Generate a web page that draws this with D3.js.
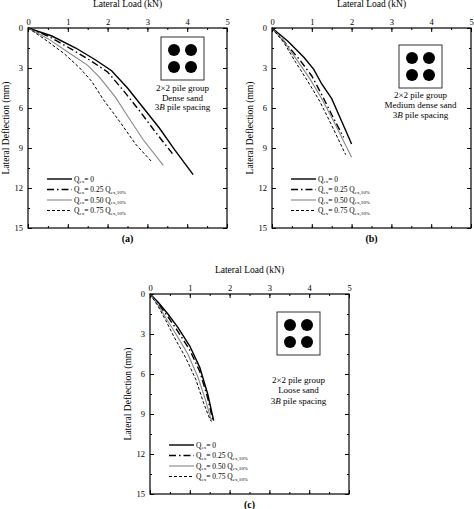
<!DOCTYPE html>
<html><head><meta charset="utf-8">
<script src="https://cdn.jsdelivr.net/npm/d3@7"></script>
<style>body{margin:0;background:#fff}svg text{font-family:"Liberation Serif","Times New Roman",serif !important;fill:#000}</style>
</head><body><svg id="c" width="474" height="509"></svg>
<script>
const xTicks=[0,1,2,3,4,5];
const yTicks=[0,3,6,9,12,15];
const seriesNames=["0","0.25","0.50","0.75"];
const panelLabels=["(a)","(b)","(c)"];
const sandTypes=["Dense sand","Medium dense sand","Loose sand"];
const aQ0=[[0,0],[0.6,0.6],[1.2,1.5],[1.7,2.4],[2.1,3.2],[2.5,4.5],[2.9,6],[3.3,7.5],[3.7,9.2],[4.15,11]];
const aQ25=[[0,0],[0.5,0.6],[1.1,1.6],[1.6,2.5],[2.0,3.3],[2.4,4.7],[2.8,6.2],[3.2,7.8],[3.65,9.5]];
const aQ50=[[0,0],[0.5,0.8],[1.0,1.8],[1.5,2.8],[1.8,3.7],[2.2,5.2],[2.5,6.6],[2.9,8.4],[3.4,10.3]];
const aQ75=[[0,0],[0.4,0.8],[0.9,1.9],[1.3,3],[1.6,4],[1.9,5.4],[2.3,7],[2.7,8.7],[3.1,10]];
const bQ0=[[0,0],[0.4,1],[0.8,2.2],[1.05,3.1],[1.25,4.2],[1.5,5.3],[1.75,7],[2.0,8.7]];
const bQ25=[[0,0],[0.3,1],[0.7,2.4],[1.0,3.6],[1.25,5],[1.5,6.5],[1.8,8.2]];
const bQ50=[[0,0],[0.3,1],[0.65,2.5],[0.95,3.8],[1.25,5.3],[1.55,7],[2.0,9.7]];
const bQ75=[[0,0],[0.3,1.1],[0.6,2.6],[0.9,4],[1.2,5.5],[1.5,7.3],[1.85,9.5]];
const cQ0=[[0,0],[0.2,0.6],[0.45,1.5],[0.7,2.5],[1.0,3.9],[1.25,5.5],[1.45,7.5],[1.6,9.5]];
const cQ25=[[0,0],[0.2,0.7],[0.45,1.7],[0.7,2.8],[1.0,4.2],[1.25,5.8],[1.45,7.8],[1.58,9.5]];
const cQ50=[[0,0],[0.2,0.8],[0.4,1.8],[0.65,3],[0.95,4.5],[1.2,6.2],[1.4,8],[1.55,9.6]];
const cQ75=[[0,0],[0.2,0.9],[0.4,2],[0.6,3.2],[0.9,4.8],[1.15,6.4],[1.35,8.2],[1.52,9.5]];
const panels=[[aQ0,aQ25,aQ50,aQ75],[bQ0,bQ25,bQ50,bQ75],[cQ0,cQ25,cQ50,cQ75]];
const styles=[{c:"#000",w:1.4,d:null},{c:"#000",w:1.4,d:"7,3,1.5,3"},{c:"#888",w:1.1,d:null},{c:"#000",w:1,d:"3,2"}];
const layout=[{x:28,y:28,box:[133,9],txt:[63,73,82],leg:151},{x:272,y:28,box:[127,17],txt:[70,80,90],leg:151},{x:150,y:294,box:[127,18],txt:[89,99,110],leg:151}];
const W=199,H=200;
const svg=d3.select("#c");
panels.forEach((ser,i)=>{
  const L=layout[i];
  const g=svg.append("g").attr("transform",`translate(${L.x},${L.y})`);
  const x=d3.scaleLinear().domain([0,5]).range([0,W]);
  const y=d3.scaleLinear().domain([0,15]).range([0,H]);
  const minorX=d3.range(0,5.01,0.5), minorY=d3.range(0,15.01,1.5);
  const ax=(a,sel)=>{sel.call(a);sel.select(".domain").remove();sel.selectAll("line").attr("stroke","#000");};
  g.append("g").call(s=>ax(d3.axisTop(x).tickValues(xTicks).tickSize(-4).tickPadding(3).tickFormat(d3.format("d")),s)).selectAll("text").attr("font-size",8.5);
  g.append("g").call(s=>ax(d3.axisTop(x).tickValues(minorX).tickSize(-2).tickFormat(""),s));
  g.append("g").attr("transform",`translate(0,${H})`).call(s=>ax(d3.axisBottom(x).tickValues(minorX).tickSize(-2).tickFormat(""),s));
  g.append("g").attr("transform",`translate(0,${H})`).call(s=>ax(d3.axisBottom(x).tickValues(xTicks).tickSize(-4).tickFormat(""),s));
  g.append("g").call(s=>ax(d3.axisLeft(y).tickValues(yTicks).tickSize(-4).tickPadding(5).tickFormat(d3.format("d")),s)).selectAll("text").attr("font-size",8.5);
  g.append("g").call(s=>ax(d3.axisLeft(y).tickValues(minorY).tickSize(-2).tickFormat(""),s));
  g.append("g").attr("transform",`translate(${W},0)`).call(s=>ax(d3.axisRight(y).tickValues(yTicks).tickSize(-4).tickFormat(""),s));
  g.append("g").attr("transform",`translate(${W},0)`).call(s=>ax(d3.axisRight(y).tickValues(minorY).tickSize(-2).tickFormat(""),s));
  g.append("rect").attr("width",W).attr("height",H).attr("fill","none").attr("stroke","#000").attr("stroke-width",1.2);
  g.append("text").attr("x",W/2).attr("y",-21).attr("text-anchor","middle").attr("font-size",9.5).text("Lateral Load (kN)");
  g.append("text").attr("transform",`translate(${-19},${H/2}) rotate(-90)`).attr("text-anchor","middle").attr("font-size",9.5).text("Lateral Deflection (mm)");
  g.append("text").attr("x",W/2).attr("y",H+14).attr("text-anchor","middle").attr("font-size",10).attr("font-weight","bold").text(panelLabels[i]);
  const line=d3.line().x(d=>x(d[0])).y(d=>y(d[1]));
  ser.forEach((s,k)=>{g.append("path").attr("d",line(s)).attr("fill","none").attr("stroke",styles[k].c).attr("stroke-width",styles[k].w).attr("stroke-dasharray",styles[k].d);});
  const [bx,by]=L.box;
  g.append("rect").attr("x",bx).attr("y",by).attr("width",43).attr("height",43).attr("fill","none").attr("stroke","#333").attr("stroke-width",1);
  [[0,0],[1,0],[0,1],[1,1]].forEach(([a,b])=>g.append("circle").attr("cx",bx+13+a*17).attr("cy",by+13+b*17).attr("r",6).attr("fill","#000"));
  const cx=bx+21.5;
  g.append("text").attr("x",cx).attr("y",L.txt[0]).attr("text-anchor","middle").attr("font-size",9).text("2×2 pile group");
  g.append("text").attr("x",cx).attr("y",L.txt[1]).attr("text-anchor","middle").attr("font-size",9).text(sandTypes[i]);
  const t3=g.append("text").attr("x",cx).attr("y",L.txt[2]).attr("text-anchor","middle").attr("font-size",9);
  t3.append("tspan").text("3");t3.append("tspan").attr("font-style","italic").text("B");t3.append("tspan").text(" pile spacing");
  seriesNames.forEach((nm,k)=>{
    const ly=L.leg+k*10.5;
    g.append("line").attr("x1",19).attr("x2",44).attr("y1",ly).attr("y2",ly).attr("stroke",styles[k].c).attr("stroke-width",styles[k].w).attr("stroke-dasharray",styles[k].d);
    const t=g.append("text").attr("x",46).attr("y",ly+2.5).attr("font-size",7.5);
    t.append("tspan").text("Q");t.append("tspan").attr("font-size",5).attr("dy",1.5).text("ex");
    if(k===0){t.append("tspan").attr("dy",-1.5).text("= 0");}
    else{t.append("tspan").attr("dy",-1.5).text("= "+nm+" Q");t.append("tspan").attr("font-size",5).attr("dy",1.5).text("ex,10%");}
  });
});
</script></body></html>
